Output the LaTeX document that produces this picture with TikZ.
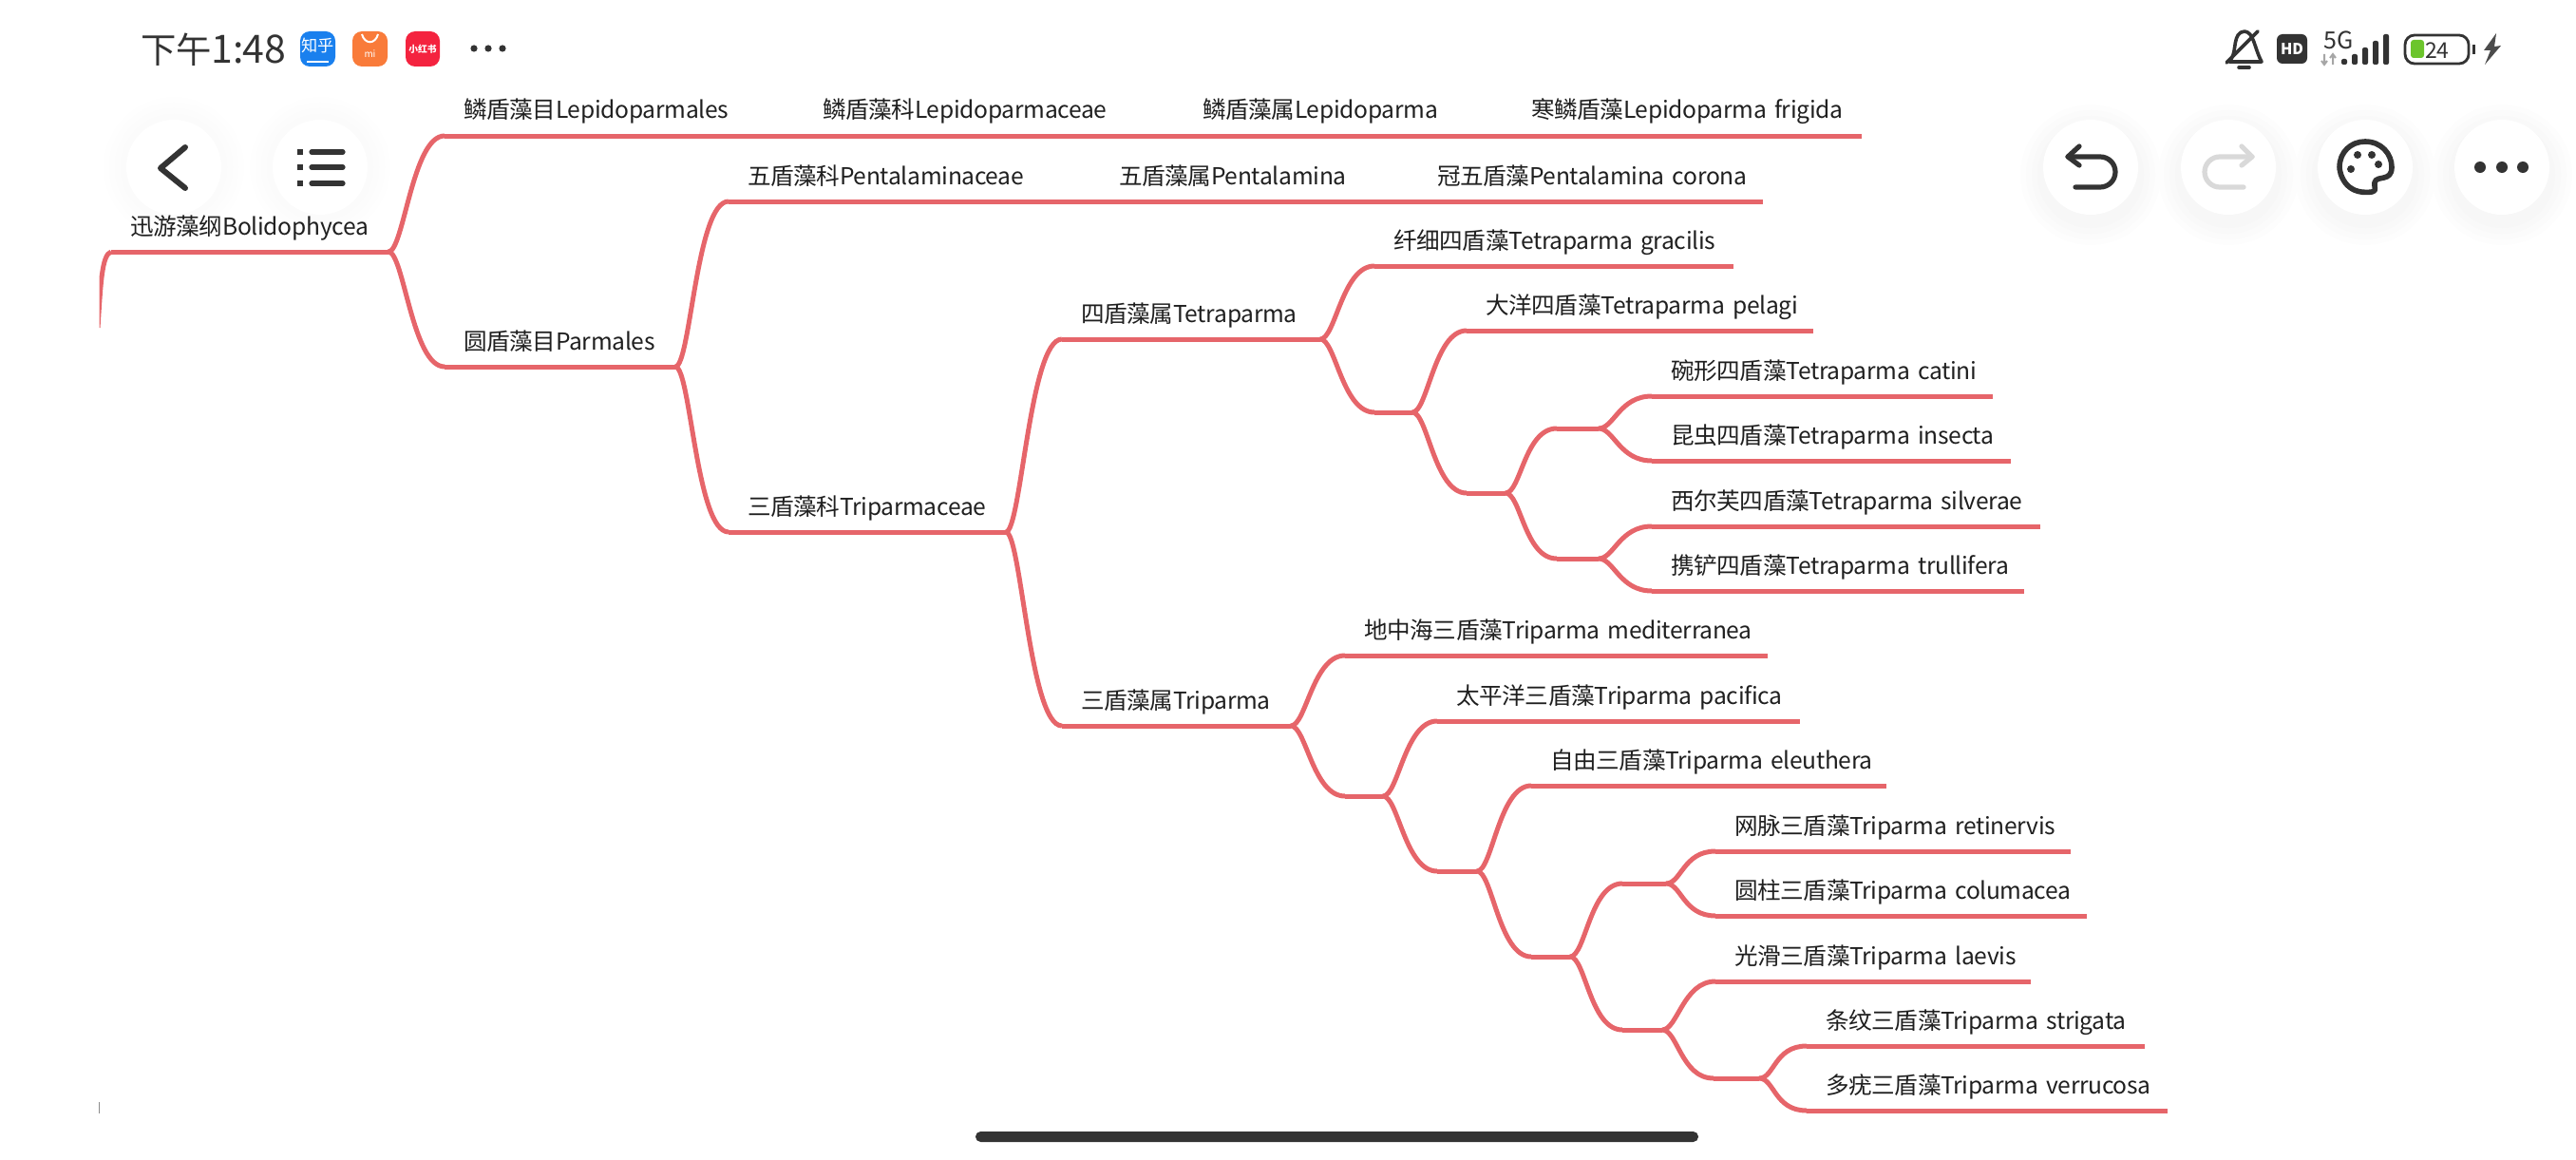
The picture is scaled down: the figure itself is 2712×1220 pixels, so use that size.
\documentclass[tikz,border=0pt]{standalone}
\usepackage{fontspec}
\setmainfont[LetterSpace=-1.2]{Noto Sans CJK SC}
\definecolor{branchred}{HTML}{E6656A}
\definecolor{inkdark}{HTML}{333333}
\definecolor{zhihublue}{HTML}{1A80EE}
\definecolor{miorange}{HTML}{F97B3A}
\definecolor{xhsred}{HTML}{F4233F}
\definecolor{batgreen}{HTML}{6CC52C}
\tikzset{
    topic/.style={anchor=south west, inner xsep=0pt, inner ysep=6pt, outer sep=0pt, text width=#1 pt, align=left,
        text height=9pt, text depth=3pt, text=black!88, font=\fontsize{12.3}{14}\selectfont,
        execute at begin node={\hspace*{10pt}}},
    branch/.style={draw=branchred, line width=2.5pt},
    fork/.style={branch, out=0, in=180, out distance=8pt, in distance=17pt},
    icon/.style={draw=inkdark, line width=2.6pt, line cap=round, line join=round},
    appicon/.style={rounded corners=5pt},
    apptext/.style={text=white, inner sep=0pt, font=\fontsize{#1}{#1}\selectfont}
}
\begin{document}
\begin{tikzpicture}[x=0.5pt, y=-0.5pt]
    \useasboundingbox (0, 0) rectangle (2712, 1220);

    % floating buttons
    \foreach \c/\h in {183/0, 337/0, 2201/1, 2346/1, 2490/1, 2634/1}
        \foreach \r/\g in {74/0.4, 68/0.8, 62/1.2, 56/1.6} {
            \pgfmathsetmacro\shade{\g*(1+\h)}
            \fill[black!\shade] (\c, 176+8*\h) circle (\r);
        }
    \foreach \c in {183, 337, 2201, 2346, 2490, 2634}
        \fill[white] (\c, 176) circle (50);

    \draw[icon, line width=3pt] (195, 155) -- (169, 177) -- (195, 198);
    \foreach \y in {160, 176, 193} {
        \fill[inkdark] (313, \y-3) rectangle (319, \y+3);
        \draw[icon] (328, \y) -- (361, \y);
    }
    \draw[icon] (2189, 154) -- (2177, 165) -- (2189, 174);
    \draw[icon] (2177, 165) -- (2211, 165) arc[start angle=-90, end angle=90, radius=16] -- (2185, 197);
    \draw[icon, draw=black!15] (2360, 154) -- (2371, 165) -- (2360, 174);
    \draw[icon, draw=black!15] (2371, 165) -- (2337, 165) arc[start angle=270, end angle=90, radius=16] -- (2362, 197);
    \draw[icon, line width=2.8pt] (2497, 202) .. controls (2467, 206) and (2463, 180) .. (2463, 176)
        .. controls (2463, 160) and (2475, 149) .. (2490, 149)
        .. controls (2507, 149) and (2518, 162) .. (2518, 176)
        .. controls (2518, 192) and (2502, 184) .. (2500, 192)
        .. controls (2499, 197) and (2503, 201) .. (2497, 202);
    \foreach \x/\y in {2482/163, 2497/163, 2504/173, 2475/178}
        \fill[inkdark] (\x, \y) circle (4);
    \foreach \x in {2611, 2634, 2656}
        \fill[inkdark] (\x, 176) circle (6);

    % outline nodes
    \node[topic=146] (root) at (117, 265) {迅游藻纲Bolidophycea};
    \node[topic=189] (lepido) at (468, 143) {鳞盾藻目Lepidoparmales};
    \node[topic=200] (lepifam) at (846, 143) {鳞盾藻科Lepidoparmaceae};
    \node[topic=173] (lepigen) at (1246, 143) {鳞盾藻属Lepidoparma};
    \node[topic=184] (lepispe) at (1592, 143) {寒鳞盾藻Lepidoparma frigida};
    \node[topic=121.5] (parmales) at (468, 386) {圆盾藻目Parmales};
    \node[topic=195.5] (penta) at (767, 212) {五盾藻科Pentalaminaceae};
    \node[topic=167.5] (pentagen) at (1158, 212) {五盾藻属Pentalamina};
    \node[topic=181.5] (pentaspe) at (1493, 212) {冠五盾藻Pentalamina corona};
    \node[topic=146] (tripa) at (767, 560) {三盾藻科Triparmaceae};

    \node[topic=136] (tetra) at (1118, 357) {四盾藻属Tetraparma};
    \node[topic=189] (gracilis) at (1447, 280) {纤细四盾藻Tetraparma gracilis};
    \node[topic=20] (tetone) at (1447, 434) {};
    \node[topic=182.5] (pelagi) at (1544, 348) {大洋四盾藻Tetraparma pelagi};
    \node[topic=20.5] (tettwo) at (1544, 519) {};
    \node[topic=22] (tetthree) at (1639, 451) {};
    \node[topic=22] (tetfour) at (1639, 588) {};
    \node[topic=179.5] (catini) at (1739, 417) {碗形四盾藻Tetraparma catini};
    \node[topic=189] (insecta) at (1739, 485) {昆虫四盾藻Tetraparma insecta};
    \node[topic=204.5] (silverae) at (1739, 554) {西尔芙四盾藻Tetraparma silverae};
    \node[topic=196] (trullifera) at (1739, 622) {携铲四盾藻Tetraparma trullifera};

    \node[topic=120.5] (trip) at (1118, 764) {三盾藻属Triparma};
    \node[topic=222.5] (medit) at (1416, 690) {地中海三盾藻Triparma mediterranea};
    \node[topic=20] (trione) at (1416, 838) {};
    \node[topic=191] (pacifica) at (1513, 759) {太平洋三盾藻Triparma pacifica};
    \node[topic=21] (tritwo) at (1513, 917) {};
    \node[topic=187] (eleuthera) at (1612, 827) {自由三盾藻Triparma eleuthera};
    \node[topic=20.5] (trithree) at (1612, 1007) {};
    \node[topic=23] (trifour) at (1708, 930) {};
    \node[topic=21] (trifive) at (1708, 1084) {};
    \node[topic=187] (retinervis) at (1806, 896) {网脉三盾藻Triparma retinervis};
    \node[topic=195.5] (columacea) at (1806, 964) {圆柱三盾藻Triparma columacea};
    \node[topic=166] (laevis) at (1806, 1033) {光滑三盾藻Triparma laevis};
    \node[topic=24] (trisix) at (1804, 1135) {};
    \node[topic=178] (strigata) at (1902, 1101) {条纹三盾藻Triparma strigata};
    \node[topic=190] (verrucosa) at (1902, 1169) {多疣三盾藻Triparma verrucosa};

    % underlines
    \foreach \n in {root, lepido, lepifam, lepigen, lepispe, parmales, penta, pentagen, pentaspe, tripa,
        tetra, gracilis, tetone, pelagi, tettwo, tetthree, tetfour, catini, insecta, silverae, trullifera,
        trip, medit, trione, pacifica, tritwo, eleuthera, trithree, trifour, trifive, retinervis, columacea,
        laevis, trisix, strigata, verrucosa}
        \draw[branch] (\n.south west) -- (\n.south east);

    % forks
    \foreach \a/\b in {root/lepido, root/parmales, parmales/penta, parmales/tripa, tripa/tetra, tripa/trip,
        tetra/gracilis, tetra/tetone, tetone/pelagi, tetone/tettwo, tettwo/tetthree, tettwo/tetfour,
        tetthree/catini, tetthree/insecta, tetfour/silverae, tetfour/trullifera,
        trip/medit, trip/trione, trione/pacifica, trione/tritwo, tritwo/eleuthera, tritwo/trithree,
        trithree/trifour, trithree/trifive, trifour/retinervis, trifour/columacea,
        trifive/laevis, trifive/trisix, trisix/strigata, trisix/verrucosa}
        \draw[fork] (\a.south east) to (\b.south west);

    % root stem, cut off by the left edge of the view
    \coordinate (rootin) at (103, 345);
    \begin{scope}
        \clip (104.5, 200) rectangle (300, 400);
        \draw[branch] (root.south west) .. controls (107, 268) and (106, 300) .. (rootin);
    \end{scope}
    \coordinate (ticktop) at (104, 1160);
    \coordinate (tickend) at (104, 1172);
    \draw[black!45, line width=0.5pt] (ticktop) -- (tickend);

    % home bar
    \fill[inkdark, rounded corners=2.7pt] (1027, 1191) rectangle (1788, 1202);

    % status bar, left
    \node[anchor=west, inner sep=0pt, text=inkdark, font=\fontsize{18.7}{20}\selectfont] (clock) at (148, 52)
        {下午{\fontsize{20.5}{20}\selectfont 1:48}};
    \fill[zhihublue, appicon] (316, 33) rectangle (353, 70);
    \node[apptext=8.6] (zhihu) at (334.5, 48) {知乎};
    \draw[white, line width=0.7pt] (323, 65) -- (346, 65);
    \fill[miorange, appicon] (371, 33) rectangle (408, 70);
    \draw[white, line width=1pt] (381, 36) .. controls (384, 47) and (395, 47) .. (398, 36);
    \node[apptext=5] (mistore) at (389.5, 57) {mi};
    \fill[xhsred, appicon] (427, 33) rectangle (463, 70);
    \node[apptext=4.9] (xhs) at (445, 52) {\bfseries 小红书};
    \foreach \x in {499, 514, 529}
        \fill[inkdark] (\x, 51) circle (3.6);

    % status bar, right
    \draw[icon, line width=1.8pt] (2349, 62) .. controls (2355, 54) and (2350, 34) .. (2363, 33)
        .. controls (2373, 34) and (2373, 50) .. (2381, 65) -- (2347, 65);
    \draw[icon, line width=1.8pt] (2344, 66) -- (2377, 33);
    \draw[icon, line width=1.8pt] (2357, 71) -- (2368, 71);
    \fill[inkdark, rounded corners=3pt] (2397, 36) rectangle (2429, 67);
    \node[apptext=8] (hd) at (2413, 51.5) {\bfseries HD};
    \node[inner sep=0pt, text=inkdark, font=\fontsize{12.5}{13}\selectfont] (fiveg) at (2462, 42) {5G};
    \foreach \x/\y in {2468/62, 2479/57, 2490/50, 2501/43, 2512/36}
        \fill[inkdark, rounded corners=1pt] (\x-3, \y) rectangle (\x+3, 68);
    \draw[black!35, line width=1pt] (2447, 57) -- (2447, 68) (2444, 64) -- (2447, 68) -- (2450, 64);
    \draw[black!35, line width=1pt] (2456, 57) -- (2456, 68) (2453, 61) -- (2456, 57) -- (2459, 61);
    \draw[inkdark, line width=1.4pt, rounded corners=5pt] (2532, 37) rectangle (2599, 67);
    \fill[batgreen, rounded corners=1.5pt] (2538, 42) rectangle (2552, 61);
    \node[anchor=west, inner sep=0pt, text=inkdark, font=\fontsize{11.5}{12}\selectfont] (battery) at (2553, 53) {24};
    \fill[inkdark] (2603, 47) rectangle (2606, 57);
    \fill[black!70] (2628, 35) -- (2615, 53) -- (2622, 53) -- (2616, 68) -- (2633, 48) -- (2626, 49) -- cycle;
\end{tikzpicture}
\end{document}
